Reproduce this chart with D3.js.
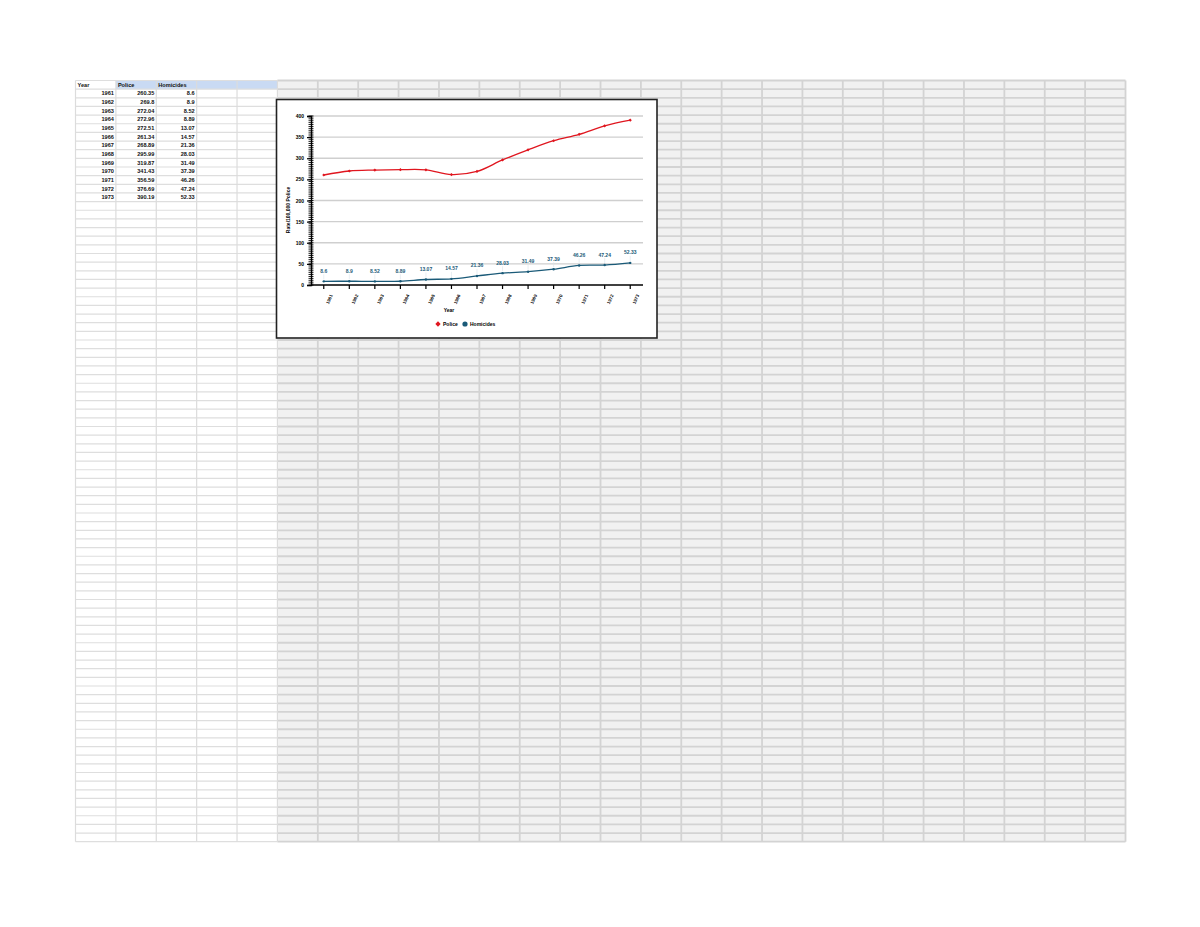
<!DOCTYPE html>
<html><head><meta charset="utf-8">
<script src="https://cdn.jsdelivr.net/npm/d3@7"></script>
<style>
html,body{margin:0;padding:0;background:#fff;}
svg{display:block;font-family:"Liberation Sans",Arial,sans-serif;}
</style></head>
<body>
<svg id="c" width="1200" height="927"></svg>
<script>
const years = [1961,1962,1963,1964,1965,1966,1967,1968,1969,1970,1971,1972,1973];
const police = [260.35,269.8,272.04,272.96,272.51,261.34,268.89,295.99,319.87,341.43,356.59,376.69,390.19];
const homicides = [8.6,8.9,8.52,8.89,13.07,14.57,21.36,28.03,31.49,37.39,46.26,47.24,52.33];
const headers = ["Year","Police","Homicides"];
const yTicks = [0,50,100,150,200,250,300,350,400];
const seriesNames = ["Police","Homicides"];
const yTitle = "Rate/100,000 Police";
const xTitle = "Year";

const svg = d3.select("#c");
const red = "#e0161f", teal = "#1a5a78";

// ---- spreadsheet grid ----
const gx0 = 75.5, gy0 = 80.5, nCols = 26, nRows = 88;
const colW = 1050/nCols, rowH = 8.65;
const colX = d3.scaleLinear().domain([0,nCols]).range([gx0, gx0+nCols*colW]);
const rowY = d3.scaleLinear().domain([0,nRows]).range([gy0, gy0+nRows*rowH]);
const grid = svg.append("g");
grid.append("rect").attr("x",colX(5)).attr("y",rowY(0)).attr("width",colX(nCols)-colX(5)).attr("height",rowY(nRows)-rowY(0)).attr("fill","#f1f1f1");
grid.append("rect").attr("x",colX(1)).attr("y",rowY(0)).attr("width",colX(5)-colX(1)).attr("height",rowH).attr("fill","#c9daf3");
d3.range(nRows+1).forEach(r=>{
  grid.append("line").attr("x1",colX(0)).attr("x2",colX(5)).attr("y1",rowY(r)).attr("y2",rowY(r)).attr("stroke","#dedede").attr("stroke-width",1.2);
  grid.append("line").attr("x1",colX(5)).attr("x2",colX(nCols)).attr("y1",rowY(r)).attr("y2",rowY(r)).attr("stroke","#d3d3d3").attr("stroke-width",1.8);
});
d3.range(nCols+1).forEach(c=>{
  grid.append("line").attr("x1",colX(c)).attr("x2",colX(c)).attr("y1",rowY(0)).attr("y2",rowY(nRows))
    .attr("stroke", c<=5 ? "#dcdcdc" : "#d3d3d3").attr("stroke-width", c<=5 ? 1.2 : 1.8);
});
const tt = svg.append("g").attr("font-size",5.6).attr("font-weight","bold").attr("fill","#111");
headers.forEach((h,i)=>{
  tt.append("text").attr("x",colX(i)+2).attr("y",rowY(0)+rowH/2+2).text(h);
});
years.forEach((y,i)=>{
  const cy = rowY(i+1)+rowH/2+2;
  tt.append("text").attr("x",colX(1)-2).attr("y",cy).attr("text-anchor","end").text(y);
  tt.append("text").attr("x",colX(2)-2).attr("y",cy).attr("text-anchor","end").text(police[i]);
  tt.append("text").attr("x",colX(3)-2).attr("y",cy).attr("text-anchor","end").text(homicides[i]);
});

// ---- chart ----
const box = {x:276.5, y:99.5, w:380.5, h:238.5};
svg.append("rect").attr("x",box.x).attr("y",box.y).attr("width",box.w).attr("height",box.h)
  .attr("fill","#fff").attr("stroke","#222").attr("stroke-width",1.6);

const x = d3.scaleBand().domain(years).range([311,643]);
const y = d3.scaleLinear().domain([0,400]).range([285,116]);
const cx = d => x(d)+x.bandwidth()/2;

const ch = svg.append("g");
ch.append("g").selectAll("line").data(yTicks.filter(t=>t>0)).join("line")
  .attr("x1",311).attr("x2",643).attr("y1",d=>y(d)).attr("y2",d=>y(d))
  .attr("stroke","#cfcfcf").attr("stroke-width",1.3);

const yAxis = d3.axisLeft(y).tickValues(yTicks).tickSize(4).tickPadding(3);
const gy = ch.append("g").attr("transform","translate(311,0)").call(yAxis);
gy.select(".domain").attr("stroke","#000").attr("stroke-width",1.4);
gy.selectAll(".tick line").attr("stroke","#000").attr("stroke-width",1.2);
gy.selectAll(".tick text").attr("font-size",5).attr("font-weight","bold").attr("fill","#000").attr("font-family","Liberation Sans, Arial, sans-serif");
const minor = d3.range(0,400.01,5);
ch.append("g").selectAll("line").data(minor).join("line")
  .attr("x1",308.5).attr("x2",313.5).attr("y1",d=>y(d)).attr("y2",d=>y(d))
  .attr("stroke","#000").attr("stroke-width",0.9);

const xAxis = d3.axisBottom(x).tickSize(4).tickPadding(3);
const gxa = ch.append("g").attr("transform","translate(0,285)").call(xAxis);
gxa.select(".domain").attr("stroke","#000").attr("stroke-width",1.4).attr("d","M311,0H643");
gxa.selectAll(".tick line").attr("stroke","#000").attr("stroke-width",1.2);
gxa.selectAll(".tick text").attr("font-size",4.5).attr("font-weight","bold").attr("fill","#000")
  .attr("font-family","Liberation Sans, Arial, sans-serif")
  .attr("text-anchor","end").attr("dy","0.2em")
  .attr("transform","translate(2,7) rotate(-65)");

ch.append("text").attr("transform","translate(290,210) rotate(-90)").attr("text-anchor","middle")
  .attr("font-size",5).attr("font-weight","bold").text(yTitle);
ch.append("text").attr("x",449).attr("y",312).attr("text-anchor","middle")
  .attr("font-size",5).attr("font-weight","bold").text(xTitle);

const line = d3.line().x((d,i)=>cx(years[i])).y(d=>y(d)).curve(d3.curveCatmullRom.alpha(0.5));
ch.append("path").datum(police).attr("d",line).attr("fill","none").attr("stroke",red).attr("stroke-width",1.3);
ch.append("path").datum(homicides).attr("d",line).attr("fill","none").attr("stroke",teal).attr("stroke-width",1.3);

const diamond = d3.symbol().type(d3.symbolSquare).size(5);
ch.append("g").selectAll("path").data(police).join("path")
  .attr("d",diamond).attr("transform",(d,i)=>`translate(${cx(years[i])},${y(d)}) rotate(45)`).attr("fill",red);
ch.append("g").selectAll("circle").data(homicides).join("circle")
  .attr("cx",(d,i)=>cx(years[i])).attr("cy",d=>y(d)).attr("r",1.2).attr("fill",teal);

const lab = ch.append("g");
homicides.forEach((v,i)=>{
  const px = cx(years[i]), py = y(v);
  lab.append("line").attr("x1",px).attr("x2",px).attr("y1",py-7).attr("y2",py-2).attr("stroke","#d8e3ea").attr("stroke-width",0.6);
  lab.append("text").attr("x",px).attr("y",py-8.5).attr("text-anchor","middle")
    .attr("font-size",5).attr("font-weight","bold").attr("fill",teal).text(v);
});

const lg = ch.append("g").attr("font-size",5).attr("font-weight","bold");
lg.append("path").attr("d",d3.symbol().type(d3.symbolSquare).size(14)).attr("transform","translate(438,324) rotate(45)").attr("fill",red);
lg.append("text").attr("x",443).attr("y",325.8).text(seriesNames[0]);
lg.append("circle").attr("cx",465).attr("cy",324).attr("r",2.6).attr("fill",teal);
lg.append("text").attr("x",470).attr("y",325.8).text(seriesNames[1]);
</script>
</body></html>
